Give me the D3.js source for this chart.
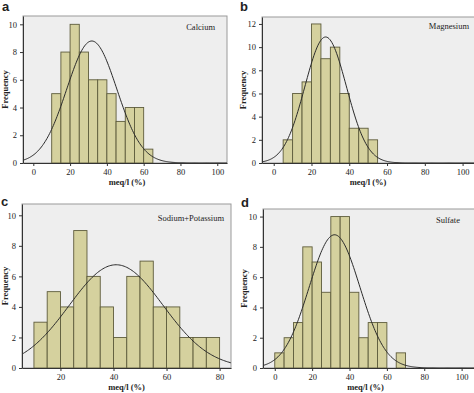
<!DOCTYPE html>
<html>
<head>
<meta charset="utf-8">
<script src="https://cdn.jsdelivr.net/npm/d3@7"></script>
<style>
  body { margin: 0; background: #fff; }
  svg text { font-family: "Liberation Serif", "DejaVu Serif", serif; fill: #222; }
</style>
</head>
<body>
<svg id="chart" width="474" height="393"></svg>
<script>
// histogram bins (lower edge, width 5) and counts
var calciumBins = [10, 15, 20, 25, 30, 35, 40, 45, 50, 55, 60];
var calciumCounts = [5, 8, 10, 8, 6, 6, 5, 3, 4, 4, 1];
var magnesiumBins = [5, 10, 15, 20, 25, 30, 35, 40, 45, 50];
var magnesiumCounts = [2, 6, 7, 12, 9, 10, 6, 3, 3, 2];
var sodiumBins = [10, 15, 20, 25, 30, 35, 40, 45, 50, 55, 60, 65, 70, 75];
var sodiumCounts = [3, 5, 4, 9, 6, 4, 2, 6, 7, 4, 4, 2, 2, 2];
var sulfateBins = [0, 5, 10, 15, 20, 25, 30, 35, 40, 45, 50, 55, 60, 65];
var sulfateCounts = [1, 2, 3, 8, 7, 5, 10, 10, 5, 2, 3, 3, 0, 1];

// fitted normal curve parameters (mean, sd)
var calciumFit = [31.8, 13.6];
var magnesiumFit = [27.5, 11.0];
var sodiumFit = [41, 17.7];
var sulfateFit = [32, 13.6];

var xTicksFull = [0, 20, 40, 60, 80, 100];
var xTicksSodium = [20, 40, 60, 80];
var yTicks10 = [0, 2, 4, 6, 8, 10];
var yTicks12 = [0, 2, 4, 6, 8, 10, 12];

var binWidth = 5;
var svg = d3.select("#chart");

function panel(cfg) {
    var g = svg.append("g");
    var x = d3.scaleLinear().domain(cfg.xDomain).range([cfg.left, cfg.right]);
    var y = d3.scaleLinear().domain([0, cfg.yMax]).range([cfg.bottom, cfg.top]);

    g.append("rect")
        .attr("x", cfg.left).attr("y", cfg.top)
        .attr("width", cfg.right - cfg.left).attr("height", cfg.bottom - cfg.top)
        .attr("fill", "#eeeeee").attr("stroke", "#9a9a9a").attr("stroke-width", 1);

    var clipId = "clip" + cfg.label;
    g.append("clipPath").attr("id", clipId).append("rect")
        .attr("x", cfg.left).attr("y", cfg.top)
        .attr("width", cfg.right - cfg.left).attr("height", cfg.bottom - cfg.top);

    var data = cfg.bins.map(function(b, i) { return {x0: b, n: cfg.counts[i]}; })
        .filter(function(d) { return d.n > 0; });

    g.selectAll("rect.bar").data(data).enter().append("rect")
        .attr("class", "bar")
        .attr("x", function(d) { return x(d.x0); })
        .attr("y", function(d) { return y(d.n); })
        .attr("width", function(d) { return x(d.x0 + binWidth) - x(d.x0); })
        .attr("height", function(d) { return y(0) - y(d.n); })
        .attr("fill", "#d5d19e")
        .attr("stroke", "#5e5c3c")
        .attr("stroke-width", 0.9);

    // normal curve scaled to counts
    var total = d3.sum(cfg.counts);
    var mu = cfg.fit[0], sd = cfg.fit[1];
    var xs = d3.range(cfg.xDomain[0], cfg.xDomain[1] + 0.5, 0.5);
    var line = d3.line()
        .x(function(v) { return x(v); })
        .y(function(v) {
            var z = (v - mu) / sd;
            return y(total * binWidth * Math.exp(-0.5 * z * z) / (sd * Math.sqrt(2 * Math.PI)));
        })
        .curve(d3.curveBasis);
    g.append("path").datum(xs)
        .attr("clip-path", "url(#" + clipId + ")")
        .attr("d", line)
        .attr("fill", "none").attr("stroke", "#2a2a2a").attr("stroke-width", 1);

    var xAxis = g.append("g")
        .attr("transform", "translate(0," + cfg.bottom + ")")
        .call(d3.axisBottom(x).tickValues(cfg.xTicks).tickSize(3).tickSizeOuter(0).tickPadding(3));
    var yAxis = g.append("g")
        .attr("transform", "translate(" + cfg.left + ",0)")
        .call(d3.axisLeft(y).tickValues(cfg.yTicks).tickSize(3).tickSizeOuter(0).tickPadding(3));
    [xAxis, yAxis].forEach(function(a) {
        a.select(".domain").attr("stroke", "#333");
        a.selectAll(".tick line").attr("stroke", "#333");
        a.selectAll("text").attr("font-size", 8.5).attr("fill", "#222")
            .style("font-family", "'Liberation Serif', serif");
    });

    g.append("text")
        .attr("x", (cfg.left + cfg.right) / 2 - cfg.titleShift)
        .attr("y", cfg.bottom + 22)
        .attr("text-anchor", "middle").attr("font-size", 8.5).attr("font-weight", "bold")
        .text("meq/l (%)");
    g.append("text")
        .attr("transform", "translate(" + Math.max(cfg.left - 16, 8) + "," + ((cfg.top + cfg.bottom) / 2) + ") rotate(-90)")
        .attr("text-anchor", "middle").attr("font-size", 8.5).attr("font-weight", "bold")
        .text("Frequency");

    g.append("text")
        .attr("x", cfg.nameX).attr("y", cfg.nameY)
        .attr("text-anchor", "end").attr("font-size", 8.5)
        .text(cfg.name);

    g.append("text")
        .attr("x", cfg.labelX).attr("y", cfg.labelY)
        .attr("font-size", 13).attr("font-weight", "bold")
        .style("font-family", "'Liberation Sans', Arial, sans-serif")
        .text(cfg.label);
}

panel({label: "a", labelX: 2, labelY: 11, name: "Calcium", nameX: 215, nameY: 30,
    bins: calciumBins, counts: calciumCounts, fit: calciumFit,
    left: 23, right: 227, top: 16, bottom: 163, xDomain: [-5.6, 105.3], yMax: 10.6,
    xTicks: xTicksFull, yTicks: yTicks10, titleShift: -2});
panel({label: "b", labelX: 240, labelY: 11, name: "Magnesium", nameX: 469, nameY: 29,
    bins: magnesiumBins, counts: magnesiumCounts, fit: magnesiumFit,
    left: 262, right: 476, top: 17, bottom: 163, xDomain: [-6.2, 107.1], yMax: 12.6,
    xTicks: xTicksFull, yTicks: yTicks12, titleShift: 1});
panel({label: "c", labelX: 1, labelY: 206, name: "Sodium+Potassium", nameX: 224, nameY: 221,
    bins: sodiumBins, counts: sodiumCounts, fit: sodiumFit,
    left: 22, right: 231, top: 204, bottom: 368, xDomain: [5.5, 84.3], yMax: 10.74,
    xTicks: xTicksSodium, yTicks: yTicks10, titleShift: 0});
panel({label: "d", labelX: 241, labelY: 207, name: "Sulfate", nameX: 460, nameY: 223,
    bins: sulfateBins, counts: sulfateCounts, fit: sulfateFit,
    left: 263, right: 476, top: 209, bottom: 368, xDomain: [-6.3, 107.7], yMax: 10.5,
    xTicks: xTicksFull, yTicks: yTicks10, titleShift: 4});
</script>
</body>
</html>
